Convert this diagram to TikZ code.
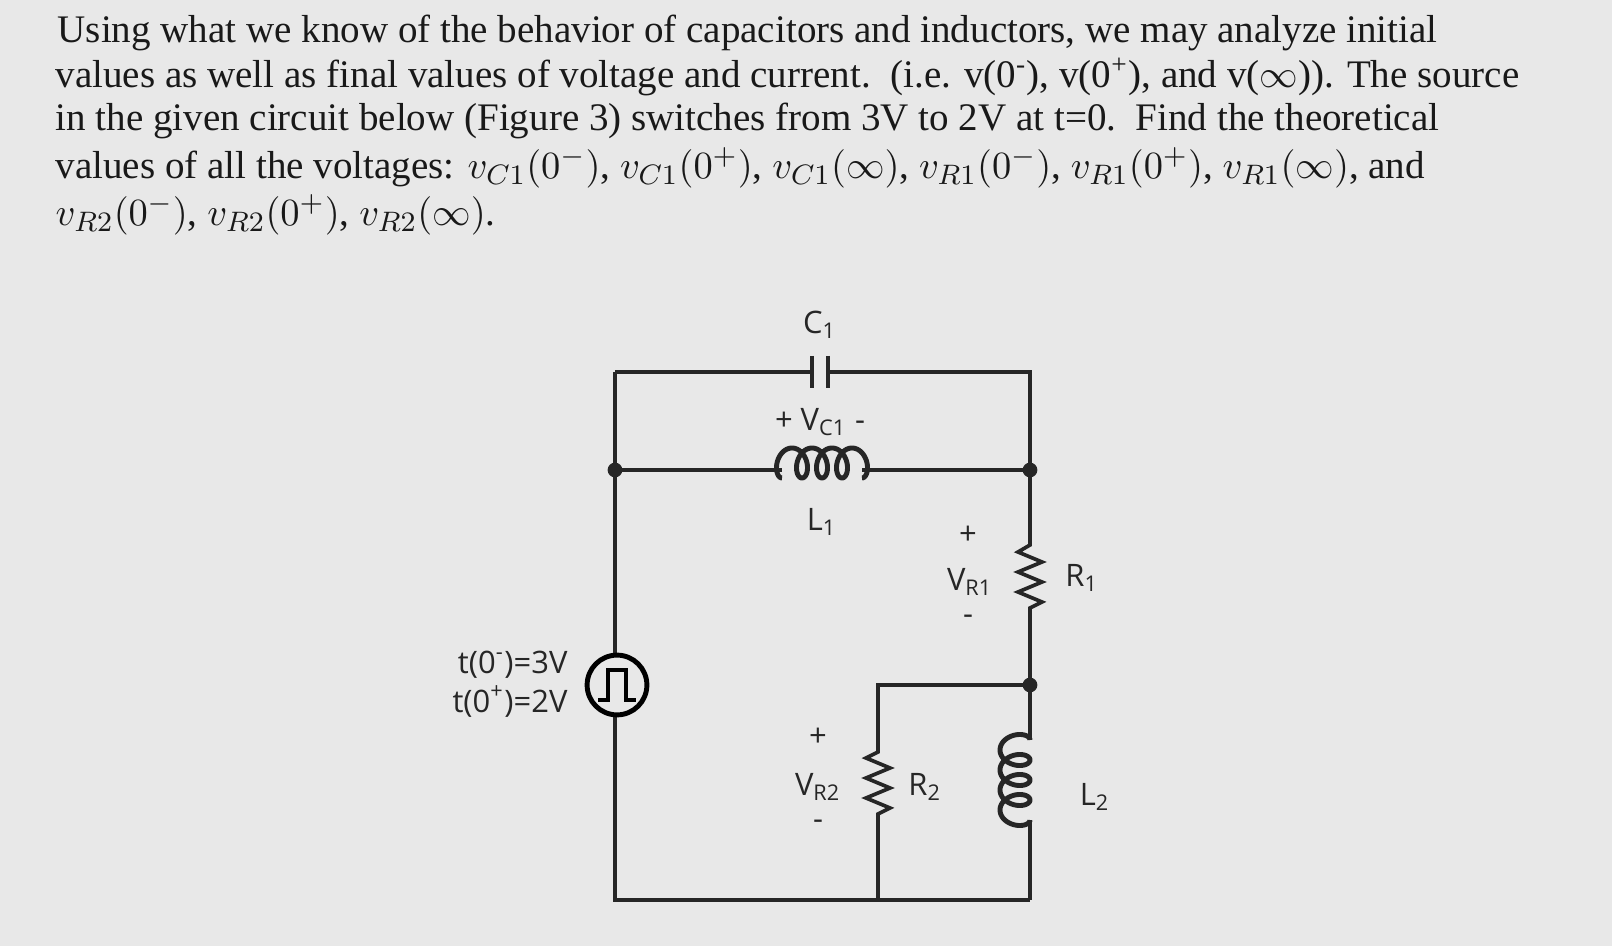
\documentclass[tikz,border=0pt]{standalone}
\usepackage{fontspec}
\setmainfont{Liberation Serif}
\newfontfamily\lab{Open Sans}
\begin{document}
\begin{tikzpicture}[x=0.01cm,y=-0.01cm,
  wire/.style={line width=1.05pt,black!85},
  dot/.style={circle,fill=black!85,inner sep=0pt,minimum size=4.2pt},
  lbl/.style={font=\lab\fontsize{8.8}{10}\selectfont,text=black!85},
  para/.style={anchor=north west,font=\fontsize{11.1}{13}\selectfont,text=black!90,inner sep=0pt}]
\fill[black!9] (0,0) rectangle (1612,946);
\useasboundingbox (0,0) rectangle (1612,946);
% text
\node[para] (t1) at (57,14) {Using what we know of the behavior of capacitors and inductors, we may analyze initial};
\node[para] (t2) at (55,57) {values as well as final values of voltage and current.\ \ (i.e. v(0\textsuperscript{-}), v(0\textsuperscript{+}), and v($\infty$)). The source};
\node[para] (t3) at (55,102) {in the given circuit below (Figure 3) switches from 3V to 2V at t=0.\ \ Find the theoretical};
\node[para] (t4) at (55,147) {values of all the voltages: $v_{C1}(0^-)$, $v_{C1}(0^+)$, $v_{C1}(\infty)$, $v_{R1}(0^-)$, $v_{R1}(0^+)$, $v_{R1}(\infty)$, and};
\node[para] (t5) at (55,194) {$v_{R2}(0^-)$, $v_{R2}(0^+)$, $v_{R2}(\infty)$.};
% nodes
\coordinate (TL) at (615,372); \coordinate (TR) at (1030,372);
\coordinate (ML) at (615,470); \coordinate (MR) at (1030,470);
\coordinate (BL) at (615,900); \coordinate (BR) at (1030,900);
\coordinate (NR) at (1030,685); \coordinate (R2t) at (878,685); \coordinate (R2b) at (878,900);
% top wire with capacitor
\draw[wire] (TL) -- (812,372) (828,372) -- (TR) -- (MR);
\draw[wire] (812,356) -- (812,388) (828,356) -- (828,388);
\draw[wire] (TL) -- (ML);
% middle wire with L1
\draw[wire] (ML) -- (782,470);
\draw[wire] (862,470) -- (MR);
\draw[wire,line width=1.4pt,domain=0:8*pi,samples=240,smooth,variable=\t]
  plot ({782+80*(\t/(8*pi)) - 10*sin(\t r)},{478-30*(1-cos(\t r))/2});
% left wire & source
\draw[wire] (ML) -- (615,655) (615,715) -- (BL) -- (BR);
\node[draw,circle,line width=1.4pt,minimum size=17pt,inner sep=0pt] (src) at (617,685) {};
\draw[line width=1pt] (598,700) -- (608,700) -- (608,670) -- (626,670) -- (626,700) -- (636,700);
% right wire with R1 and L2
\draw[wire] (MR) -- (1030,545) -- (1018,552) -- (1042,562) -- (1018,572) -- (1042,582) -- (1018,592) -- (1042,602) -- (1030,608) -- (NR);
\draw[wire] (NR) -- (1030,740);
\draw[wire,line width=1.4pt,domain=0:8*pi,samples=240,smooth,variable=\t]
  plot ({1030-30*(1-cos(\t r))/2},{740+80*(\t/(8*pi)) - 10*sin(\t r)});
\draw[wire] (1030,820) -- (BR);
% R2 branch
\draw[wire] (NR) -- (R2t) -- (878,752) -- (866,758) -- (890,768) -- (866,778) -- (890,788) -- (866,798) -- (890,808) -- (878,814) -- (R2b);
\node[dot] (d1) at (ML) {}; \node[dot] (d2) at (MR) {}; \node[dot] (d3) at (NR) {};
% labels
\node[lbl] (lC1) at (820,325) {C\textsubscript{1}};
\node[lbl] (lVc1) at (820,422) {+ V\textsubscript{C1} -};
\node[lbl] (lL1) at (822,522) {L\textsubscript{1}};
\node[lbl] (p1) at (968,535) {+};
\node[lbl] (lVR1) at (970,582) {V\textsubscript{R1}};
\node[lbl] (m1) at (968,620) {-};
\node[lbl] (lR1) at (1082,578) {R\textsubscript{1}};
\node[lbl,align=right] (ls) at (510,684) {t(0\textsuperscript{-})=3V\\[1pt]t(0\textsuperscript{+})=2V};
\node[lbl] (p2) at (818,737) {+};
\node[lbl] (lVR2) at (818,787) {V\textsubscript{R2}};
\node[lbl] (m2) at (818,825) {-};
\node[lbl] (lR2) at (925,787) {R\textsubscript{2}};
\node[lbl] (lL2) at (1095,797) {L\textsubscript{2}};
\end{tikzpicture}
\end{document}
